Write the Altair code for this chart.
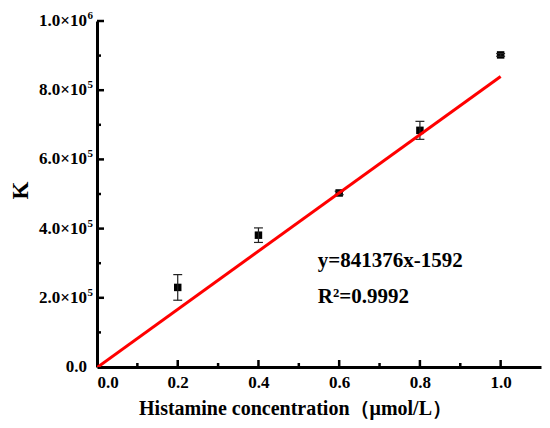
import altair as alt
import pandas as pd

# data
conc = [0.2, 0.4, 0.6, 0.8, 1.0]
K_vals = [230000, 381000, 503000, 684000, 902000]
K_err = [37000, 21000, 5000, 26000, 4000]

slope = 841376
intercept = -1592
fit_x = [0.0, 1.0]

x_major = [0.0, 0.2, 0.4, 0.6, 0.8, 1.0]
x_minor = [0.1, 0.3, 0.5, 0.7, 0.9]
y_major = [0, 200000, 400000, 600000, 800000, 1000000]
y_minor = [100000, 300000, 500000, 700000, 900000]
y_label_base = ["0.0", "2.0×10", "4.0×10", "6.0×10", "8.0×10", "1.0×10"]
y_label_sup = ["", "5", "5", "5", "5", "6"]

eq_text = "y=841376x-1592"
r2_text = "R²=0.9992"

W, H = 444, 346
FONT = "Liberation Serif"

pts = pd.DataFrame({"c": conc, "k": K_vals, "e": K_err,
                    "lo": [k - e for k, e in zip(K_vals, K_err)],
                    "hi": [k + e for k, e in zip(K_vals, K_err)]})
fit = pd.DataFrame({"c": fit_x, "k": [slope * v + intercept for v in fit_x]})
ylab = pd.DataFrame({"v": y_major, "b": y_label_base, "s": y_label_sup})
text_df = pd.DataFrame({"x": [0.547, 0.547], "y": [288000, 184000], "t": [eq_text, r2_text]})

xs = alt.Scale(domain=[0, 1.1], nice=False, zero=False)
ys = alt.Scale(domain=[0, 1000000], nice=False)

x_axis = alt.Axis(values=x_major, format=".1f", title="Histamine concentration（μmol/L）",
                  titleX=198, titleY=47, titleBaseline="alphabetic", titleAlign="center",
                  titleFontSize=20, labelPadding=7, grid=False, ticks=False,
                  domainColor="#000000", domainWidth=3,
                  labelFont=FONT, labelFontWeight="bold", labelFontSize=17, labelColor="#000000",
                  titleFont=FONT, titleFontWeight="bold", titleColor="#000000")
y_axis = alt.Axis(values=y_major, labels=False, title="K",
                  titleX=-70, titleY=169, titleBaseline="alphabetic", titleAlign="center",
                  titleAngle=-90, titleFontSize=23, grid=False, ticks=False,
                  domainColor="#000000", domainWidth=3,
                  titleFont=FONT, titleFontWeight="bold", titleColor="#000000")

squares = alt.Chart(pts).mark_square(size=56, color="#000000", opacity=1, filled=True).encode(
    x=alt.X("c:Q", scale=xs, axis=x_axis),
    y=alt.Y("k:Q", scale=ys, axis=y_axis),
)

bars = alt.Chart(pts).mark_rule(color="#222222", strokeWidth=1.2).encode(
    x="c:Q", y="lo:Q", y2="hi:Q")
cap_lo = alt.Chart(pts).mark_point(shape="M-1,0L1,0", size=80, color="#222222",
                                   strokeWidth=1.2, filled=False, opacity=1).encode(x="c:Q", y="lo:Q")
cap_hi = alt.Chart(pts).mark_point(shape="M-1,0L1,0", size=80, color="#222222",
                                   strokeWidth=1.2, filled=False, opacity=1).encode(x="c:Q", y="hi:Q")

line = alt.Chart(fit).mark_line(color="#ff0000", strokeWidth=3, clip=True).encode(
    x="c:Q", y="k:Q"
)

xmaj = alt.Chart(pd.DataFrame({"v": x_major[1:]})).mark_rule(color="#000000", strokeWidth=2.5).encode(
    x="v:Q", y=alt.value(H), y2=alt.value(H - 7))
xmin = alt.Chart(pd.DataFrame({"v": x_minor})).mark_rule(color="#000000", strokeWidth=2.5).encode(
    x="v:Q", y=alt.value(H), y2=alt.value(H - 4))
ymaj = alt.Chart(pd.DataFrame({"v": y_major[1:]})).mark_rule(color="#000000", strokeWidth=2.5).encode(
    y="v:Q", x=alt.value(0), x2=alt.value(7))
ymin = alt.Chart(pd.DataFrame({"v": y_minor})).mark_rule(color="#000000", strokeWidth=2.5).encode(
    y="v:Q", x=alt.value(0), x2=alt.value(4))

ylab_base = alt.Chart(ylab).mark_text(
    align="right", baseline="middle", font=FONT, fontWeight="bold", fontSize=17, color="#000000"
).encode(y="v:Q", x=alt.value(-10), text="b:N")
ylab_sup = alt.Chart(ylab).mark_text(
    align="left", baseline="middle", font=FONT, fontWeight="bold", fontSize=11, color="#000000", dy=-5
).encode(y="v:Q", x=alt.value(-9.5), text="s:N")

eq = alt.Chart(text_df).mark_text(
    align="left", baseline="alphabetic", font=FONT, fontWeight="bold", fontSize=21, color="#000000"
).encode(x="x:Q", y="y:Q", text="t:N")

chart = alt.layer(squares, bars, cap_lo, cap_hi, line, xmaj, xmin, ymaj, ymin,
                  ylab_base, ylab_sup, eq).properties(
    width=W, height=H,
    autosize=alt.AutoSizeParams(type="none"),
    padding={"left": 89, "top": 13, "right": 1, "bottom": 53},
    background="white",
).configure_view(strokeWidth=0)

chart.save("out.html", embed_options={"renderer": "svg", "actions": False})
